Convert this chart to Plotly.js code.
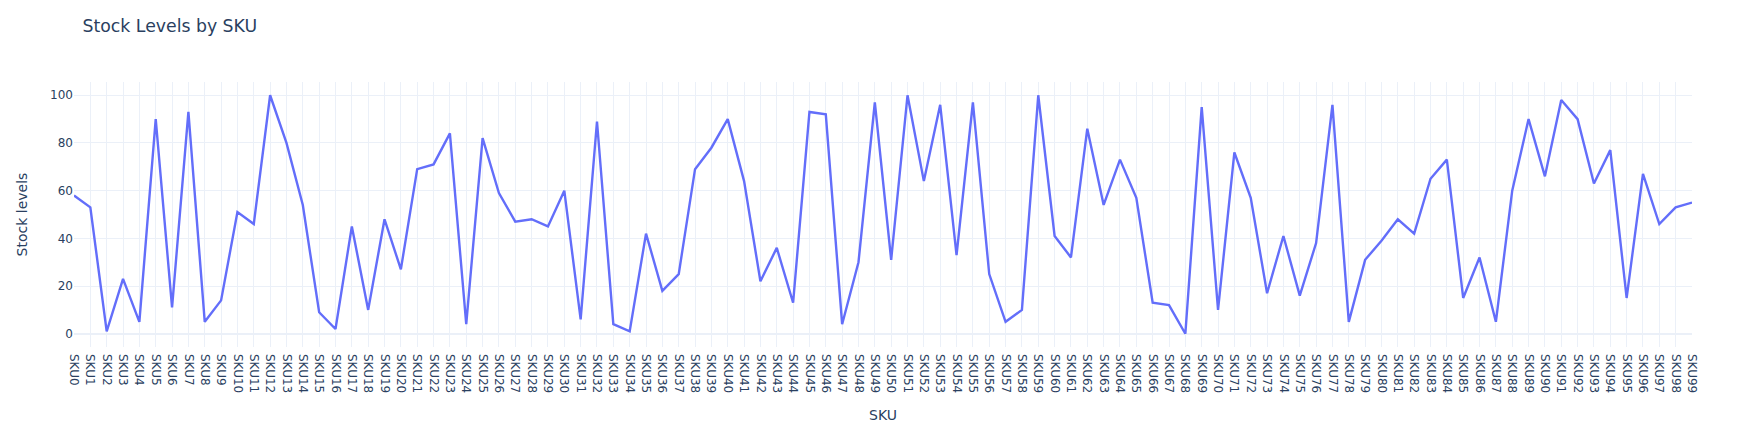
<!DOCTYPE html>
<html>
<head>
<meta charset="utf-8">
<script src="https://cdn.plot.ly/plotly-3.0.1.min.js"></script>
<style>
	html, body { margin: 0; padding: 0; background: #fff; }
</style>
</head>
<body>
<div id="chart" style="width:1763px;height:426px;"></div>
<script>
	const stockLevels = [
		58, 53, 1, 23, 5, 90, 11, 93, 5, 14,
		51, 46, 100, 80, 54, 9, 2, 45, 10, 48,
		27, 69, 71, 84, 4, 82, 59, 47, 48, 45,
		60, 6, 89, 4, 1, 42, 18, 25, 69, 78,
		90, 64, 22, 36, 13, 93, 92, 4, 30, 97,
		31, 100, 64, 96, 33, 97, 25, 5, 10, 100,
		41, 32, 86, 54, 73, 57, 13, 12, 0, 95,
		10, 76, 57, 17, 41, 16, 38, 96, 5, 31,
		39, 48, 42, 65, 73, 15, 32, 5, 60, 90,
		66, 98, 90, 63, 77, 15, 67, 46, 53, 55
	];
	const skus = stockLevels.map((v, i) => 'SKU' + i);

	const trace = {
		x: skus,
		y: stockLevels,
		type: 'scatter',
		mode: 'lines',
		line: { color: '#636efa', width: 2.4 }
	};

	const layout = {
		width: 1763,
		height: 426,
		font: { family: '"DejaVu Sans", verdana, sans-serif', color: '#2a3f5f', size: 12 },
		title: { text: 'Stock Levels by SKU', font: { size: 17.3 }, x: 0.0468, y: 0.939, yanchor: 'middle' },
		paper_bgcolor: '#fff',
		plot_bgcolor: '#fff',
		margin: { l: 74, r: 71, t: 82, b: 79 },
		showlegend: false,
		xaxis: {
			title: { text: 'SKU', standoff: 17 },
			type: 'category',
			tickangle: 90,
			dtick: 1,
			gridcolor: '#EBF0F8',
			ticks: '',
			ticklabelstandoff: 6,
			automargin: false
		},
		yaxis: {
			title: { text: 'Stock levels', standoff: 19 },
			gridcolor: '#EBF0F8',
			zerolinecolor: '#EBF0F8',
			zerolinewidth: 2,
			automargin: false
		}
	};

	Plotly.newPlot('chart', [trace], layout, { displayModeBar: false });
</script>
</body>
</html>
